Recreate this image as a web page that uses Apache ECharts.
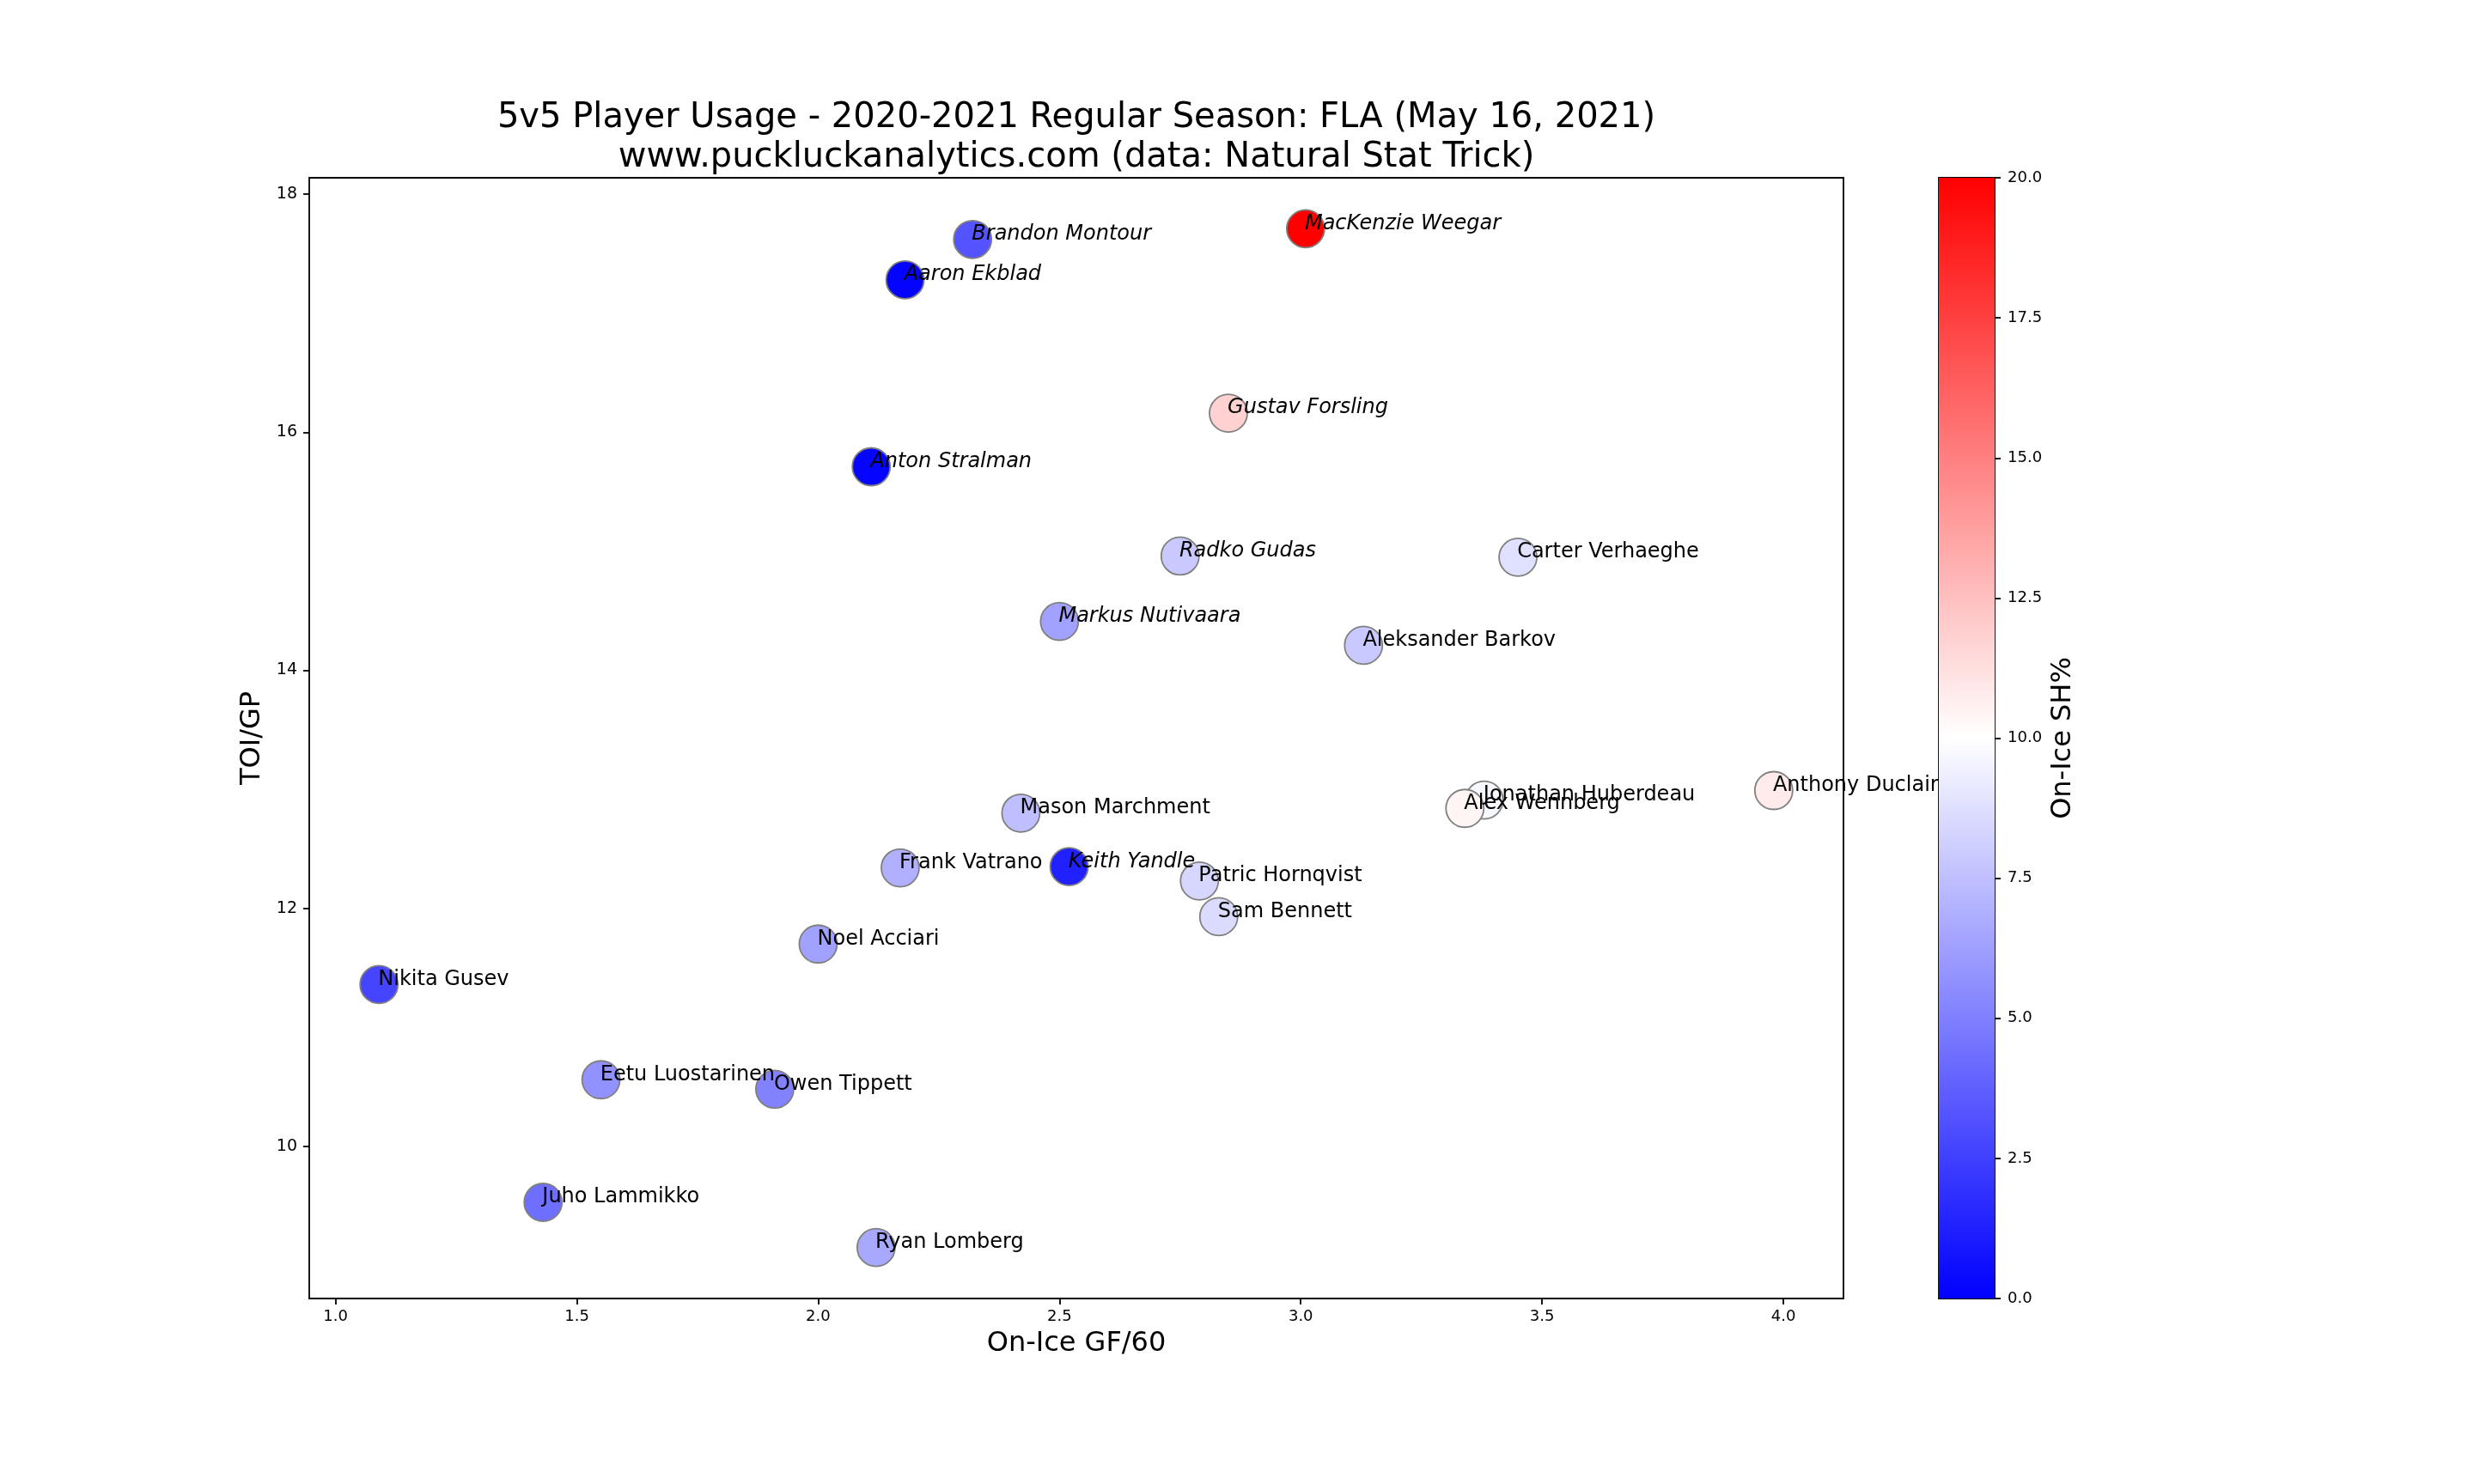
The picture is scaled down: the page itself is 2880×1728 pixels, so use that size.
<!DOCTYPE html>
<html>
<head>
<meta charset="utf-8">
<script src="https://cdn.jsdelivr.net/npm/echarts@6/dist/echarts.min.js"></script>
<style>
    html, body { margin: 0; padding: 0; background: #ffffff; }
    #chart { width: 2880px; height: 1728px; }
</style>
</head>
<body>
<div id="chart"></div>
<script>
// 球员数据 (5v5, FLA 2020-2021)
const players = [
    'Brandon Montour', 'MacKenzie Weegar', 'Aaron Ekblad', 'Gustav Forsling', 'Anton Stralman',
    'Radko Gudas', 'Carter Verhaeghe', 'Markus Nutivaara', 'Aleksander Barkov', 'Anthony Duclair',
    'Jonathan Huberdeau', 'Alex Wennberg', 'Mason Marchment', 'Frank Vatrano', 'Keith Yandle',
    'Patric Hornqvist', 'Sam Bennett', 'Noel Acciari', 'Nikita Gusev', 'Eetu Luostarinen',
    'Owen Tippett', 'Juho Lammikko', 'Ryan Lomberg'
];
const gf60 = [
    2.32, 3.01, 2.18, 2.85, 2.11,
    2.75, 3.45, 2.50, 3.13, 3.98,
    3.38, 3.34, 2.42, 2.17, 2.52,
    2.79, 2.83, 2.00, 1.09, 1.55,
    1.91, 1.43, 2.12
];
const toiGp = [
    17.62, 17.71, 17.28, 16.16, 15.71,
    14.96, 14.95, 14.41, 14.21, 12.99,
    12.91, 12.84, 12.80, 12.34, 12.35,
    12.23, 11.93, 11.70, 11.36, 10.56,
    10.48, 9.53, 9.15
];
const shPct = [
    3.3, 20.0, 0.1, 11.8, 0.2,
    7.9, 8.8, 6.3, 7.9, 10.8,
    9.7, 10.4, 7.5, 6.9, 1.3,
    8.4, 8.6, 6.3, 2.7, 5.7,
    5.1, 4.3, 6.6
];
// 防守球员标签用斜体
const defensemen = [
    'Brandon Montour', 'MacKenzie Weegar', 'Aaron Ekblad', 'Gustav Forsling',
    'Anton Stralman', 'Radko Gudas', 'Markus Nutivaara', 'Keith Yandle'
];

// 刻度
const xTicks = [1.0, 1.5, 2.0, 2.5, 3.0, 3.5, 4.0];
const yTicks = [10, 12, 14, 16, 18];
const cbTicks = [0, 2.5, 5, 7.5, 10, 12.5, 15, 17.5, 20];
const shRange = [0, 20];

// matplotlib 默认 5% 边距
function padRange(arr) {
    const lo = Math.min(...arr), hi = Math.max(...arr);
    const pad = (hi - lo) * 0.05;
    return [lo - pad, hi + pad];
}
const xRange = padRange(gf60);
const yRange = padRange(toiGp);

const font = 'DejaVu Sans';
const bwr = ['#0000ff', '#ffffff', '#ff0000'];

const points = players.map((name, i) => ({
    name: name,
    value: [gf60[i], toiGp[i], shPct[i]],
    label: { fontStyle: defensemen.includes(name) ? 'italic' : 'normal' }
}));

const chart = echarts.init(document.getElementById('chart'));

const option = {
    animation: false,
    backgroundColor: '#ffffff',
    textStyle: { fontFamily: font, color: '#000' },
    title: {
        text: '5v5 Player Usage - 2020-2021 Regular Season: FLA (May 16, 2021)\nwww.puckluckanalytics.com (data: Natural Stat Trick)',
        left: 1248,
        top: 110,
        textAlign: 'center',
        textStyle: {
            fontFamily: font,
            fontSize: 40,
            fontWeight: 'normal',
            lineHeight: 46,
            color: '#000'
        }
    },
    grid: [
        {
            left: 360, top: 207, width: 1786, height: 1305,
            show: true, borderColor: '#000', borderWidth: 1.8
        },
        {
            left: 2257, top: 207, width: 65, height: 1305,
            show: true, borderColor: '#000', borderWidth: 1.8
        }
    ],
    visualMap: {
        type: 'continuous',
        show: false,
        seriesIndex: 0,
        dimension: 2,
        min: shRange[0],
        max: shRange[1],
        inRange: { color: bwr }
    },
    xAxis: [
        {
            gridIndex: 0,
            type: 'value',
            min: xRange[0],
            max: xRange[1],
            name: 'On-Ice GF/60',
            nameLocation: 'middle',
            nameGap: 37,
            nameTextStyle: { fontFamily: font, fontSize: 32, color: '#000' },
            axisLine: { show: false },
            axisTick: {
                show: true, length: 7, customValues: xTicks,
                lineStyle: { color: '#000', width: 1.8 }
            },
            axisLabel: {
                customValues: xTicks,
                margin: 12,
                fontSize: 18,
                color: '#000',
                formatter: v => v.toFixed(1)
            },
            splitLine: { show: false }
        },
        {
            gridIndex: 1,
            type: 'category',
            data: ['SH%'],
            show: false
        }
    ],
    yAxis: [
        {
            gridIndex: 0,
            type: 'value',
            min: yRange[0],
            max: yRange[1],
            name: 'TOI/GP',
            nameLocation: 'middle',
            nameRotate: 90,
            nameGap: 50,
            nameTextStyle: { fontFamily: font, fontSize: 32, color: '#000' },
            axisLine: { show: false },
            axisTick: {
                show: true, length: 7, customValues: yTicks,
                lineStyle: { color: '#000', width: 1.8 }
            },
            axisLabel: {
                customValues: yTicks,
                margin: 14,
                fontSize: 19,
                color: '#000',
                formatter: v => String(v)
            },
            splitLine: { show: false }
        },
        {
            gridIndex: 1,
            type: 'value',
            position: 'right',
            min: shRange[0],
            max: shRange[1],
            name: 'On-Ice SH%',
            nameLocation: 'middle',
            nameRotate: 90,
            nameGap: 64,
            nameTextStyle: { fontFamily: font, fontSize: 32, color: '#000' },
            axisLine: { show: false },
            axisTick: {
                show: true, length: 7, customValues: cbTicks,
                lineStyle: { color: '#000', width: 1.8 }
            },
            axisLabel: {
                customValues: cbTicks,
                margin: 15,
                fontSize: 18,
                color: '#000',
                formatter: v => v.toFixed(1)
            },
            splitLine: { show: false }
        }
    ],
    series: [
        {
            name: 'players',
            type: 'scatter',
            xAxisIndex: 0,
            yAxisIndex: 0,
            z: 2,
            symbolSize: 44,
            itemStyle: { borderColor: '#808080', borderWidth: 1.8, opacity: 1 },
            label: {
                show: true,
                position: [22, 29],
                align: 'left',
                verticalAlign: 'bottom',
                formatter: p => p.name,
                fontFamily: font,
                fontSize: 24,
                color: '#000'
            },
            data: points
        },
        {
            // 色条
            name: 'colorbar',
            type: 'bar',
            xAxisIndex: 1,
            yAxisIndex: 1,
            z: 5,
            silent: true,
            barWidth: '100%',
            data: [shRange[1]],
            itemStyle: {
                color: new echarts.graphic.LinearGradient(0, 0, 0, 1, [
                    { offset: 0, color: bwr[2] },
                    { offset: 0.5, color: bwr[1] },
                    { offset: 1, color: bwr[0] }
                ])
            }
        }
    ]
};

chart.setOption(option);
</script>
</body>
</html>
